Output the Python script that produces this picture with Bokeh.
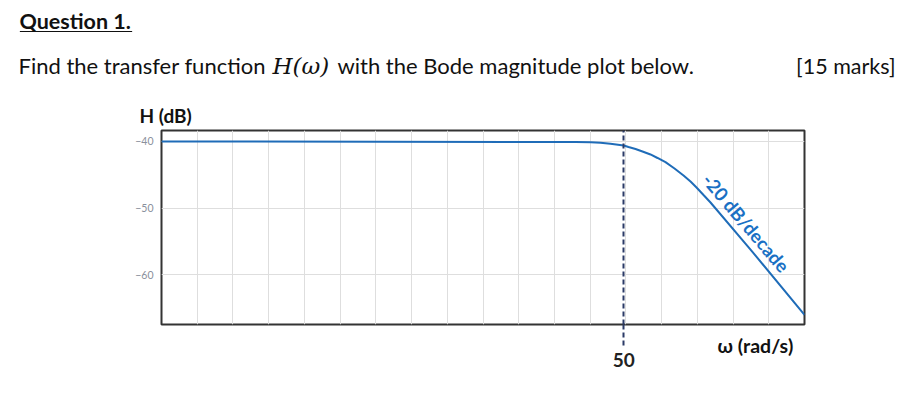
import numpy as np
from bokeh.plotting import figure
from bokeh.models import (Range1d, FixedTicker, Grid, Label)
from bokeh.embed import file_html
from bokeh.resources import INLINE

# ---- data ----
omega = [0.004, 18.7, 25.4, 31.1, 38.1, 50, 55.1, 63.6, 73.3, 86.3, 99.6, 117.2,
         140.9, 169.4, 195.4, 220.8, 254.7, 293.8, 665, 1959, 2000]
mag_db = [-40.0, -40.08, -40.12, -40.2, -40.35, -40.6, -40.83, -41.13, -41.5, -41.95,
          -42.48, -43.11, -44.06, -45.11, -46.02, -46.92, -48.05, -49.17, -56.24,
          -65.86, -66.05]
y_ticks = [-60, -50, -40]
y_tick_labels = ["−60", "−50", "−40"]
corner_freq = 50
slope_label = "-20 dB/decade"
x_label = "ω (rad/s)"
y_label = "H (dB)"

X0, X1 = 0.004, 2000
Y0, Y1 = -67.5, -38.35

p = figure(width=908, height=394, x_axis_type="log",
           x_range=Range1d(X0, X1), y_range=Range1d(Y0, Y1),
           output_backend="svg", toolbar_location=None,
           min_border_left=161, min_border_right=104,
           min_border_top=130, min_border_bottom=70)
p.background_fill_color = "white"
p.border_fill_color = "white"
p.outline_line_color = "#333333"
p.outline_line_width = 2

SHIFT = 8  # baseline correction for canvas-positioned texts


def lab(text, X, Y, size, style="normal", font="Lato", color="#111111",
        align="left", side="above"):
    p.add_layout(Label(x=X, y=Y - SHIFT, x_units="canvas", y_units="canvas",
                       text=text, text_font=font, text_font_size=size,
                       text_font_style=style, text_color=color,
                       text_align=align, text_baseline="alphabetic"), side)


# grids
p.xgrid.ticker = FixedTicker(ticks=list(np.geomspace(X0, X1, 19)[1:-1]))
p.xgrid.grid_line_color = "#dedede"
p.xgrid.grid_line_width = 1
p.ygrid.ticker = FixedTicker(ticks=y_ticks)
p.ygrid.grid_line_color = "#dedede"
p.add_layout(Grid(dimension=0, ticker=FixedTicker(ticks=[corner_freq]),
                  grid_line_color="#2b3a67", grid_line_width=2,
                  grid_line_dash="5 3", level="glyph"))

# x axis: only the corner frequency, dashed tick below frame
xa = p.xaxis[0]
xa.ticker = FixedTicker(ticks=[corner_freq])
xa.axis_line_color = None
xa.minor_tick_line_color = None
xa.major_tick_in = 0
xa.major_tick_out = 21
xa.major_tick_line_color = "#2b3a67"
xa.major_tick_line_width = 2
xa.major_tick_line_dash = "5 3"
xa.major_label_standoff = 7
xa.major_label_text_font = "Lato"
xa.major_label_text_font_style = "bold"
xa.major_label_text_font_size = "19px"
xa.major_label_text_color = "#222222"
xa.major_label_overrides = {corner_freq: str(corner_freq)}

ya = p.yaxis[0]
ya.ticker = FixedTicker(ticks=y_ticks)
ya.major_label_overrides = {t: l for t, l in zip(y_ticks, y_tick_labels)}
ya.axis_line_color = None
ya.major_tick_line_color = None
ya.minor_tick_line_color = None
ya.major_tick_out = 0
ya.major_tick_in = 0
ya.major_label_standoff = 8
ya.major_label_text_font = "Lato"
ya.major_label_text_font_size = "10.5px"
ya.major_label_text_color = "#8a909c"

p.line(omega, mag_db, line_color="#1f6cb8", line_width=2)

p.add_layout(Label(x=270, y=-45.26, text=slope_label, angle=-0.865,
                   text_font="Lato", text_font_style="bold", text_font_size="18.5px",
                   text_color="#1a70c4", text_align="left", text_baseline="middle"))

lab(y_label, 139, 123, "19px", "bold")
lab("Find the transfer function", 18, 73, "22px")
lab("H(ω)", 272, 73, "23px", "italic", "DejaVu Serif")
lab("with the Bode magnitude plot below.", 337, 73, "22px")
# underline of the heading
p.add_layout(Label(x=75.5, y=31, x_units="canvas", y_units="canvas", text=" ",
                   text_font_size="1px", text_align="center", text_baseline="middle",
                   background_fill_color="#111111", padding=(56, 0)), "above")
lab("Question 1.", 19, 28, "21.5px", "bold", side="left")
lab("[15 marks]", 895, 73, "21.5px", align="right", side="right")
lab(x_label, 717, 353, "19.5px", "bold", side="below")

open("out.html", "w").write(file_html(p, INLINE))
